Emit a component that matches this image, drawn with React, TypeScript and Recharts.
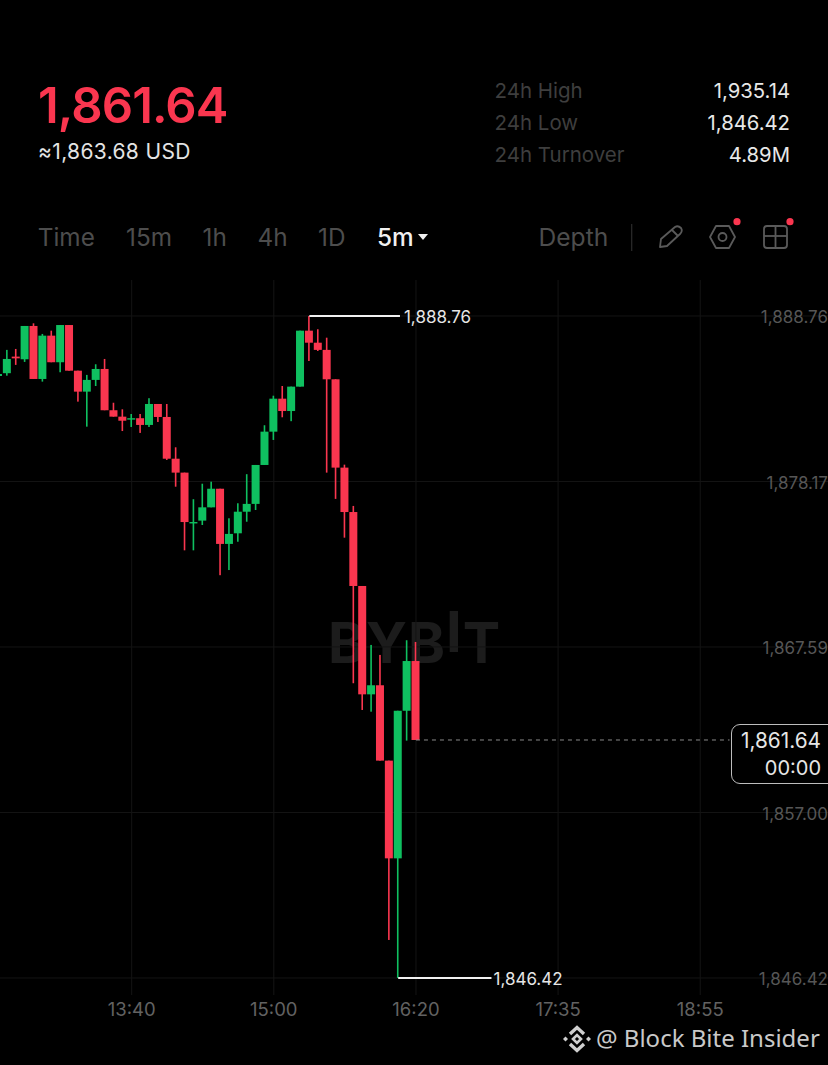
import { Bar, CartesianGrid, ComposedChart, ReferenceDot, ReferenceLine, XAxis, YAxis } from "recharts";

const FONT = "Inter, sans-serif";
const RED = "#fa364f";
const GREEN = "#0fc060";

// 5m candles, oldest first
const opens = [
  1884.92, 1885.1, 1886.16, 1885.99, 1888.12, 1884.73, 1887.5, 1885.8, 1888.18, 1885.26,
  1883.92, 1884.67, 1885.37, 1882.73, 1882.32, 1882.13, 1882.22, 1881.79, 1883.13, 1882.3,
  1879.63, 1878.74, 1875.5, 1875.67, 1876.52, 1877.71, 1874.18, 1874.86, 1876.24, 1876.74,
  1879.23, 1881.36, 1883.47, 1882.68, 1884.24, 1887.82, 1887.05, 1886.59, 1884.71, 1879.06,
  1876.22, 1871.49, 1864.56, 1865.14, 1860.32, 1854.07, 1863.51, 1866.69,
];
const highs = [
  1885.1, 1886.59, 1886.65, 1888.12, 1888.29, 1887.61, 1887.82, 1888.18, 1888.18, 1885.26,
  1884.99, 1885.67, 1886.01, 1883.21, 1882.79, 1882.49, 1882.49, 1883.5, 1883.13, 1883.13,
  1880.36, 1878.74, 1877.04, 1878.03, 1878.16, 1877.71, 1875.82, 1876.78, 1878.64, 1879.23,
  1881.77, 1883.66, 1884.28, 1884.24, 1887.82, 1888.76, 1887.91, 1887.37, 1884.71, 1879.25,
  1876.61, 1871.49, 1867.72, 1867.08, 1860.32, 1863.51, 1868.02, 1867.91,
];
const lows = [
  1884.8, 1884.94, 1885.63, 1885.82, 1884.73, 1884.56, 1885.8, 1885.16, 1885.26, 1883.28,
  1881.68, 1884.28, 1882.73, 1882.32, 1881.4, 1881.66, 1881.28, 1881.66, 1881.98, 1879.55,
  1877.84, 1873.77, 1873.77, 1875.39, 1876.52, 1872.18, 1872.51, 1874.32, 1875.6, 1876.35,
  1879.23, 1880.83, 1882.28, 1882.03, 1884.24, 1885.88, 1886.52, 1878.74, 1877.06, 1874.58,
  1865.27, 1863.56, 1863.45, 1860.32, 1848.85, 1846.42, 1861.6, 1861.64,
];
const closes = [
  1885.05, 1886.01, 1886.05, 1888.12, 1884.73, 1887.5, 1885.8, 1888.18, 1885.26, 1883.92,
  1884.67, 1885.37, 1882.73, 1882.32, 1882.06, 1882.22, 1881.79, 1883.13, 1882.3, 1879.63,
  1878.74, 1875.58, 1875.58, 1876.52, 1877.71, 1874.18, 1874.82, 1876.24, 1876.74, 1879.23,
  1881.36, 1883.47, 1882.68, 1884.24, 1887.82, 1887.05, 1886.59, 1884.71, 1879.06, 1876.22,
  1871.49, 1864.56, 1865.14, 1860.32, 1854.07, 1863.51, 1866.69, 1861.64,
];

const priceTicks = [1888.76, 1878.17, 1867.59, 1857.0, 1846.42];
const timeSlots = [15, 31, 47, 63, 79];
const timeLabels = ["13:40", "15:00", "16:20", "17:35", "18:55"];

const tabs = ["Time", "15m", "1h", "4h", "1D"];
const stats = [
  ["24h High", "1,935.14"],
  ["24h Low", "1,846.42"],
  ["24h Turnover", "4.89M"],
];

const candles = opens.map((open, i) => ({
  slot: i,
  open,
  close: closes[i],
  high: highs[i],
  low: lows[i],
  range: [lows[i], highs[i]],
}));

function fmt(n: number) {
  return n.toLocaleString("en-US", { minimumFractionDigits: 2, maximumFractionDigits: 2 });
}

function Candle(props: any) {
  const { x, y, width, height, payload } = props;
  const top = Math.min(y, y + height);
  const h = Math.abs(height);
  const perUnit = h / (payload.high - payload.low);
  const bodyTop = top + (payload.high - Math.max(payload.open, payload.close)) * perUnit;
  const bodyH = Math.abs(payload.open - payload.close) * perUnit;
  const color = payload.close >= payload.open ? GREEN : RED;
  return (
    <g>
      <rect x={x + width / 2 - 0.8} y={top} width={1.6} height={h} fill={color} />
      <rect x={x} y={bodyTop} width={width} height={Math.max(bodyH, 1.4)} fill={color} />
    </g>
  );
}

function abs(left: number, top: number, extra: any = {}) {
  return { position: "absolute", left, top, whiteSpace: "nowrap", lineHeight: 1, ...extra } as any;
}

function Header() {
  return (
    <>
      <div style={abs(38, 81, { fontSize: 49, fontWeight: 600, color: RED, letterSpacing: -0.9 })}>1,861.64</div>
      <div style={abs(38, 141, { fontSize: 21, color: "#e4e4e4", letterSpacing: 0.35 })}>≈1,863.68 USD</div>
      {stats.map(([label, value], i) => (
        <div key={label}>
          <div style={abs(494.5, 81 + i * 32, { fontSize: 20.5, color: "#3e3e3e" })}>{label}</div>
          <div style={abs(600, 81 + i * 32, { width: 190, textAlign: "right", fontSize: 20.3, color: "#e8e8e8" })}>{value}</div>
        </div>
      ))}
      {tabs.map((t, i) => (
        <div key={t} style={abs([37.8, 126, 202.5, 257.5, 318][i], 225, { fontSize: 24.3, color: "#4d4d4d" })}>{t}</div>
      ))}
      <div style={abs(377, 225, { fontSize: 24.3, fontWeight: 500, color: "#f0f0f0" })}>5m</div>
      <div style={abs(538.5, 225, { fontSize: 24.6, color: "#4d4d4d" })}>Depth</div>
      <svg width={828} height={300} style={{ position: "absolute", left: 0, top: 0 }}>
        <polygon points="418,234 428,234 423,240" fill="#f0f0f0" />
        <line x1={631.7} x2={631.7} y1={224} y2={251} stroke="#2c2c2c" strokeWidth={1.2} />
        <g fill="none" stroke="#5a5a5a" strokeWidth={1.8} strokeLinejoin="round">
          <path d="M660 247 L661 239 L675 227 Q678 225 681 228 Q683 231 680 234 L667 246 Z M672 230 L678 236" />
          <polygon points="710,237 716,226 729,226 735,237 729,248 716,248" />
          <circle cx={722.5} cy={237} r={4} />
          <rect x={764} y={226} width={23} height={22} rx={3} />
          <line x1={775.5} x2={775.5} y1={226} y2={248} />
          <line x1={764} x2={787} y1={236} y2={236} />
        </g>
        <circle cx={737} cy={221.7} r={3.6} fill={RED} />
        <circle cx={790} cy={221.7} r={3.6} fill={RED} />
      </svg>
    </>
  );
}

function Watermark() {
  return (
    <div style={abs(328, 615, { fontSize: 56, fontWeight: 700, color: "#1c1c1c", letterSpacing: 1 })}>
      BYB<span style={{ position: "relative", top: -11 }}>I</span>T
    </div>
  );
}

function PriceBox() {
  return (
    <div
      style={abs(730.5, 723.5, {
        width: 110,
        height: 60,
        boxSizing: "border-box",
        border: "1px solid #bdbdbd",
        borderRadius: 9,
        background: "#000",
        color: "#e6e6e6",
      })}
    >
      <div style={abs(0, 6, { width: 89.5, textAlign: "right", fontSize: 20.8 })}>1,861.64</div>
      <div style={abs(0, 33, { width: 89.5, textAlign: "right", fontSize: 20 })}>00:00</div>
    </div>
  );
}

function Credit() {
  return (
    <>
      <svg width={30} height={30} style={{ position: "absolute", left: 562, top: 1024 }}>
        <g fill="none" stroke="#cfcfcf" strokeWidth={3.4}>
          <path d="M8 10 L15 3.5 L22 10" />
          <path d="M8 20 L15 26.5 L22 20" />
          <path d="M11 15 L15 11 L19 15 L15 19 Z" strokeWidth={2.6} />
        </g>
        <g fill="#cfcfcf">
          <polygon points="1,15 3.5,12.5 6,15 3.5,17.5" />
          <polygon points="24,15 26.5,12.5 29,15 26.5,17.5" />
        </g>
      </svg>
      <div style={abs(596, 1026, { fontFamily: "Noto Sans, sans-serif", fontSize: 24, color: "#c9c9c9" })}>
        @ Block Bite Insider
      </div>
    </>
  );
}

export default function App() {
  return (
    <div style={{ position: "absolute", left: 0, top: 0, width: 828, height: 1065, background: "#000", overflow: "hidden", fontFamily: FONT }}>
      <Header />
      <Watermark />
      <div style={{ position: "absolute", left: 0, top: 0 }}>
        <ComposedChart width={828} height={1065} data={candles} margin={{ top: 280, right: 0, bottom: 40, left: 0 }}>
          <CartesianGrid stroke="#141414" strokeWidth={1} syncWithTicks />
          <XAxis
            dataKey="slot"
            type="number"
            domain={[0.18, 93.38]}
            allowDataOverflow
            ticks={timeSlots}
            interval={0}
            tickFormatter={(v: number) => timeLabels[timeSlots.indexOf(v)]}
            axisLine={false}
            tickLine={false}
            height={30}
            tickMargin={2}
            tick={{ fill: "#626262", fontSize: 18.5, fontFamily: FONT }}
          />
          <YAxis
            orientation="right"
            mirror
            width={70}
            domain={[1845.33, 1891.06]}
            allowDataOverflow
            ticks={priceTicks}
            interval={0}
            tickFormatter={fmt}
            axisLine={false}
            tickLine={false}
            tickSize={0}
            tickMargin={0}
            tick={{ fill: "#565656", fontSize: 17, fontFamily: FONT, dy: 1.5 }}
          />
          <Bar dataKey="range" barSize={8} shape={Candle} isAnimationActive={false} />
          <ReferenceLine
            segment={[{ x: 35, y: 1888.76 }, { x: 45.2, y: 1888.76 }]}
            stroke="#f0f0f0"
            strokeWidth={2}
          />
          <ReferenceDot
            x={45.2}
            y={1888.76}
            r={0}
            stroke="none"
            label={{ value: "1,888.76", position: "right", offset: 4, dy: 1, fill: "#e6e6e6", fontSize: 17, fontFamily: FONT }}
          />
          <ReferenceLine
            segment={[{ x: 45, y: 1846.42 }, { x: 55.5, y: 1846.42 }]}
            stroke="#f0f0f0"
            strokeWidth={2}
          />
          <ReferenceDot
            x={55.5}
            y={1846.42}
            r={0}
            stroke="none"
            label={{ value: "1,846.42", position: "right", offset: 2, dy: 1, fill: "#e6e6e6", fontSize: 17, fontFamily: FONT }}
          />
          <ReferenceLine
            segment={[{ x: 47, y: 1861.64 }, { x: 82.3, y: 1861.64 }]}
            stroke="#8a8a8a"
            strokeWidth={1}
            strokeDasharray="4 4"
          />
        </ComposedChart>
      </div>
      <PriceBox />
      <Credit />
    </div>
  );
}
